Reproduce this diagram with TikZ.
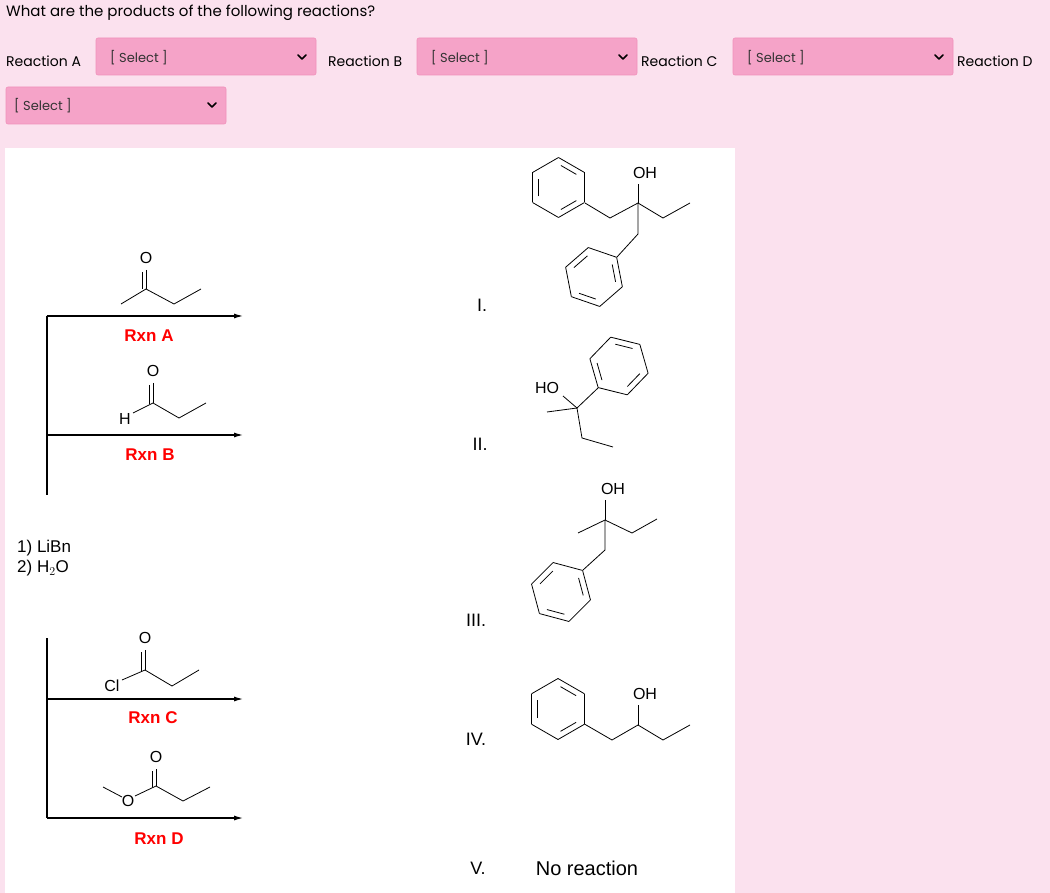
\documentclass[tikz,border=0pt]{standalone}
\usepackage{fontspec}
\setmainfont{Poppins}
\newfontfamily\arial{Liberation Sans}
\definecolor{bgpink}{HTML}{FBE1EE}
\definecolor{selpink}{HTML}{F5A3C8}
\definecolor{selborder}{HTML}{F090BA}
\definecolor{rxnred}{HTML}{FF0000}
\newcommand{\benz}[4]{% cx cy angle radius
  \foreach \i in {0,...,5}{
    \draw[bond] ({#1+#4*cos(#3+60*\i)},{#2+#4*sin(#3+60*\i)}) -- ({#1+#4*cos(#3+60*(\i+1))},{#2+#4*sin(#3+60*(\i+1))});
  }
  \foreach \i in {0,2,4}{
    \draw[bond] ($({#1+0.78*#4*cos(#3+60*\i)},{#2+0.78*#4*sin(#3+60*\i)})!0.12!({#1+0.78*#4*cos(#3+60*(\i+1))},{#2+0.78*#4*sin(#3+60*(\i+1))})$) -- ($({#1+0.78*#4*cos(#3+60*(\i+1))},{#2+0.78*#4*sin(#3+60*(\i+1))})!0.12!({#1+0.78*#4*cos(#3+60*\i)},{#2+0.78*#4*sin(#3+60*\i)})$);
  }
}
\usetikzlibrary{calc,arrows.meta}
\begin{document}
\begin{tikzpicture}[x=1pt,y=-1pt,
  bond/.style={line width=0.8pt},
  rarrow/.style={line width=1.1pt,-{Latex[length=9pt,width=5pt]}},
  rline/.style={line width=1.1pt},
  atom/.style={font=\arial\fontsize{16}{16}\selectfont,inner sep=0pt},
  rxn/.style={font=\arial\bfseries\fontsize{17}{17}\selectfont,text=rxnred,inner sep=0pt},
  roman/.style={font=\arial\fontsize{18}{18}\selectfont,inner sep=0pt},
  lab/.style={font=\fontsize{14}{14}\selectfont,anchor=west,inner sep=0pt},
  selbox/.style={fill=selpink,draw=selborder,line width=0.6pt,rounded corners=2pt},
  seltxt/.style={font=\fontsize{13}{13}\selectfont,text=black!80,anchor=west,inner sep=0pt},
  chev/.style={line width=1.6pt,line cap=round,line join=round}]
\useasboundingbox (0,0) rectangle (1050,893);
\fill[bgpink] (0,0) rectangle (1050,893);
\fill[white] (5,148) rectangle (735,893);
\node[lab,font=\fontsize{15}{15}\selectfont] (title) at (6,13) {What are the products of the following reactions?};
% dropdowns
\node[lab] (la) at (6,61) {Reaction A};
\draw[selbox] (96,38) rectangle (316,75);
\node[seltxt] (sa) at (110,58) {[ Select ]};
\draw[chev] (298,55) -- (302,59) -- (306,55);
\node[lab] (lb) at (328,61) {Reaction B};
\draw[selbox] (417,38) rectangle (637,75);
\node[seltxt] (sb) at (431,58) {[ Select ]};
\draw[chev] (619,55) -- (623,59) -- (627,55);
\node[lab] (lc) at (641,61) {Reaction C};
\draw[selbox] (733,38) rectangle (953,75);
\node[seltxt] (sc) at (747,58) {[ Select ]};
\draw[chev] (935,55) -- (939,59) -- (943,55);
\node[lab] (ld) at (957,61) {Reaction D};
\draw[selbox] (6,87) rectangle (226,124);
\node[seltxt] (sd) at (14,106) {[ Select ]};
\draw[chev] (208,103) -- (212,107) -- (216,103);
% reaction lines
\coordinate (v1t) at (47,316); \coordinate (v1b) at (47,495);
\coordinate (v2t) at (47,638); \coordinate (v2b) at (47,818);
\coordinate (b1) at (47,435); \coordinate (b2) at (47,699);
\coordinate (ea) at (243,316); \coordinate (eb) at (243,435);
\coordinate (ec) at (243,699); \coordinate (ed) at (243,818);
\draw[rline] (v1t) -- (v1b);
\draw[rline] (v2t) -- (v2b);
\draw[rarrow] ($(v1t)+(-0.5,0)$) -- (ea);
\draw[rarrow] (b1) -- (eb);
\draw[rarrow] (b2) -- (ec);
\draw[rarrow] ($(v2b)+(-0.5,0)$) -- (ed);
\node[rxn] (ra) at (149,336) {Rxn A};
\node[rxn] (rb) at (150,455) {Rxn B};
\node[rxn] (rc) at (153,718) {Rxn C};
\node[rxn] (rd) at (159,839) {Rxn D};
\node[font=\arial\fontsize{17}{20}\selectfont,anchor=north west,inner sep=0pt,align=left] (reag) at (17,540) {1) LiBn\\2) H$_2$O};
% ketone A
\node[atom] (oa) at (146,258) {O};
\draw[bond] (146,270) -- (146,289);
\draw[bond] (142.5,272) -- (142.5,289.5);
\draw[bond] (121,304) -- (146,289) -- (174,304) -- (201,289);
% aldehyde B
\node[atom] (ob) at (153,371) {O};
\draw[bond] (153,383) -- (153,403);
\draw[bond] (149.5,385) -- (149.5,403.5);
\node[atom] (hb) at (125,419) {H};
\draw[bond] (133,413) -- (153,403) -- (179,418) -- (206,403);
% acid chloride C
\node[atom] (oc) at (145,638) {O};
\draw[bond] (145,650) -- (145,670);
\draw[bond] (141.5,652) -- (141.5,670.5);
\node[atom] (clc) at (112,686) {Cl};
\draw[bond] (122,680) -- (145,670) -- (172,686) -- (199,670);
% ester D
\node[atom] (od) at (156,757) {O};
\draw[bond] (156,769) -- (156,786);
\draw[bond] (152.5,771) -- (152.5,786.5);
\node[atom] (oed) at (128,801) {O};
\draw[bond] (103,787) -- (122,797);
\draw[bond] (135,796) -- (156,786) -- (183,801) -- (210,787);
% numerals
\node[roman] (n1) at (482,305) {I.};
\node[roman] (n2) at (480,444) {II.};
\node[roman] (n3) at (476,620) {III.};
\node[roman] (n4) at (476,739) {IV.};
\node[roman] (n5) at (478,868) {V.};
\node[font=\arial\fontsize{20}{20}\selectfont,inner sep=0pt] (nr) at (587,868) {No reaction};
% product I
\benz{558.5}{187.5}{30}{30}
\node[atom] (oh1) at (645,173) {OH};
\draw[bond] (585,203) -- (610,218) -- (638,203) -- (663,218) -- (690,203);
\draw[bond] (638,203) -- (638,184);
\draw[bond] (638,203) -- (638,234) -- (617,257);
\benz{594}{277}{-41}{30}
% product II
\node[atom] (ho2) at (547,388) {HO};
\draw[bond] (563,396) -- (577,408);
\draw[bond] (547,412) -- (577,408) -- (582,438) -- (613,447);
\draw[bond] (577,408) -- (598,388);
\benz{619}{366}{134}{30}
% product III
\node[atom] (oh3) at (613,489) {OH};
\draw[bond] (605,520) -- (605,500);
\draw[bond] (578,533) -- (605,520) -- (632,533) -- (657,519);
\draw[bond] (605,520) -- (605,550) -- (583,570);
\benz{561}{592}{-45}{30.5}
% product IV
\benz{558}{709}{30}{30.5}
\node[atom] (oh4) at (645,694) {OH};
\draw[bond] (584.4,724) -- (612,740) -- (638,725) -- (663,740) -- (690,725);
\draw[bond] (638,725) -- (638,705);
\end{tikzpicture}
\end{document}
